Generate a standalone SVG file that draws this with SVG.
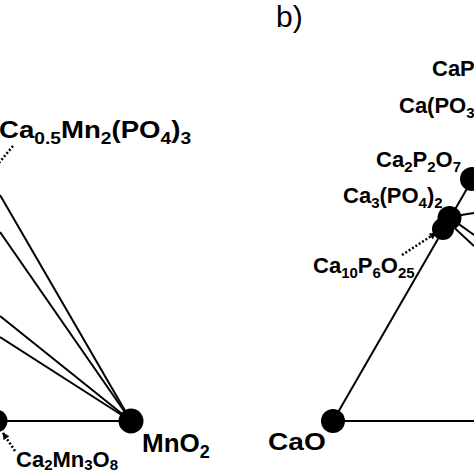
<svg xmlns="http://www.w3.org/2000/svg" width="474" height="474" viewBox="0 0 474 474">
<defs>
<style>
.t{font-family:"Liberation Sans",Arial,sans-serif;font-weight:bold;font-size:22px;fill:#000}
.s{font-size:15px}
.ln{stroke:#000;stroke-width:2;fill:none}
.dot{stroke:#000;stroke-width:2.5;stroke-dasharray:2 2;fill:none}
.n{fill:#000}
</style>
<marker id="ah" viewBox="0 0 10 10" refX="9" refY="5" markerWidth="7" markerHeight="7" markerUnits="userSpaceOnUse" orient="auto">
<path d="M0,0 L10,5 L0,10 z" fill="#000"/>
</marker>
</defs>
<rect width="474" height="474" fill="#fff"/>
<g id="connectors">
<line class="ln" x1="-4" y1="421" x2="131" y2="421"/>
<line class="ln" x1="0" y1="195" x2="131" y2="421"/>
<line class="ln" x1="0" y1="232" x2="131" y2="421"/>
<line class="ln" x1="0" y1="316" x2="131" y2="421"/>
<line class="ln" x1="0" y1="337" x2="131" y2="421"/>
<line class="ln" x1="333" y1="421" x2="474" y2="421"/>
<line class="ln" x1="333" y1="421" x2="480" y2="166"/>
<line class="ln" x1="449" y1="217" x2="474" y2="213"/>
<line class="ln" x1="449" y1="217" x2="474" y2="235"/>
<line class="ln" x1="446" y1="220" x2="474" y2="246"/>
<line class="dot" x1="13" y1="146" x2="-2" y2="164"/>
<line class="dot" x1="15" y1="451" x2="3" y2="433" marker-end="url(#ah)"/>
<line class="dot" x1="402" y1="255" x2="436" y2="233" marker-end="url(#ah)"/>
</g>
<g id="node-left">
<circle class="n" cx="-4" cy="421" r="11.5"/>
</g>
<g id="node-MnO2">
<circle class="n" cx="131" cy="421" r="12.5"/>
<text class="t" x="142" y="452" style="font-size:26px">MnO<tspan style="font-size:18px" dy="6">2</tspan></text>
</g>
<g id="label-Ca05Mn2PO43">
<text class="t" transform="translate(-1,138) scale(1.2,1)" style="font-size:23px">Ca<tspan style="font-size:16px" dy="6">0.5</tspan><tspan dy="-6">Mn</tspan><tspan style="font-size:16px" dy="6">2</tspan><tspan dy="-6">(PO</tspan><tspan style="font-size:16px" dy="6">4</tspan><tspan dy="-6">)</tspan><tspan style="font-size:16px" dy="6">3</tspan></text>
</g>
<g id="label-Ca2Mn3O8">
<text class="t" x="16" y="467">Ca<tspan class="s" dy="3">2</tspan><tspan dy="-3">Mn</tspan><tspan class="s" dy="3">3</tspan><tspan dy="-3">O</tspan><tspan class="s" dy="3">8</tspan></text>
</g>
<text x="276" y="27" style="font-family:'Liberation Sans',Arial,sans-serif;font-size:30px">b)</text>
<g id="node-CaO">
<circle class="n" cx="333" cy="421" r="12"/>
<text class="t" transform="translate(268,450) scale(1.17,1)" style="font-size:24px">CaO</text>
</g>
<g id="label-CaP">
<text class="t" x="432" y="76">CaP</text>
</g>
<g id="label-CaPO3">
<text class="t" x="399" y="113">Ca(PO<tspan class="s" dy="5">3</tspan></text>
</g>
<g id="node-Ca2P2O7">
<circle class="n" cx="472" cy="179" r="12"/>
<text class="t" x="376" y="167">Ca<tspan class="s" dy="5">2</tspan><tspan dy="-5">P</tspan><tspan class="s" dy="5">2</tspan><tspan dy="-5">O</tspan><tspan class="s" dy="5">7</tspan></text>
</g>
<g id="node-Ca3PO42">
<circle class="n" cx="449.5" cy="218" r="12"/>
<text class="t" x="343" y="203">Ca<tspan class="s" dy="5">3</tspan><tspan dy="-5">(PO</tspan><tspan class="s" dy="5">4</tspan><tspan dy="-5">)</tspan><tspan class="s" dy="5">2</tspan></text>
</g>
<g id="node-Ca10P6O25">
<circle class="n" cx="443" cy="229" r="11"/>
<text class="t" x="313" y="273">Ca<tspan class="s" dy="5">10</tspan><tspan dy="-5">P</tspan><tspan class="s" dy="5">6</tspan><tspan dy="-5">O</tspan><tspan class="s" dy="5">25</tspan></text>
</g>
</svg>
